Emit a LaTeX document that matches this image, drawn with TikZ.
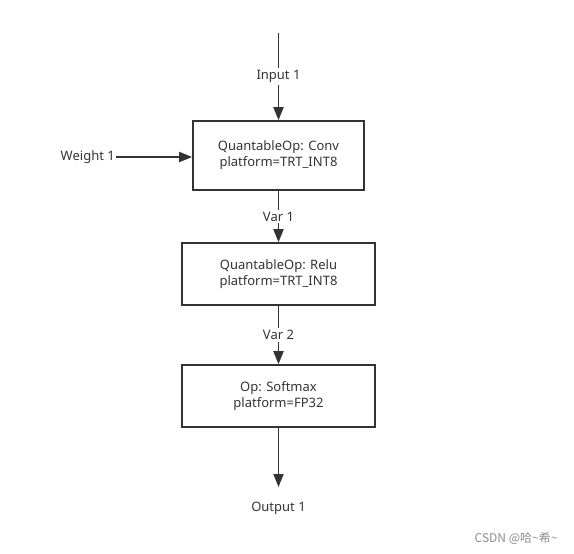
\documentclass[tikz,border=0pt]{standalone}
\usepackage{fontspec}
\setmainfont{Noto Sans}
\newfontfamily\cjk{Noto Sans CJK SC}
\usetikzlibrary{arrows.meta}
\definecolor{ink}{HTML}{333333}
\tikzset{
  opbox/.style={draw=ink, line width=1.6pt, minimum width=171pt, minimum height=69pt, align=center, text=ink, font=\fontsize{13}{16}\selectfont, inner sep=0pt},
  flow/.style={draw=ink, line width=1.8pt, -{Triangle[length=13pt,width=10pt]}},
  lbl/.style={fill=white, text=ink, font=\fontsize{13}{16}\selectfont, inner sep=2pt},
  txt/.style={text=ink, font=\fontsize{13}{16}\selectfont, inner sep=1pt}
}
\begin{document}
\begin{tikzpicture}[x=1pt,y=-1pt]
\useasboundingbox (0,0) rectangle (574,554);
\node[opbox] (conv) at (278.5,155.5) {QuantableOp: Conv\\platform=TRT\_INT8};
\node[opbox, minimum width=193pt, minimum height=62pt] (relu) at (278.5,274) {QuantableOp: Relu\\platform=TRT\_INT8};
\node[opbox, minimum width=193pt, minimum height=62pt] (soft) at (278.5,396) {Op: Softmax\\platform=FP32};
\coordinate (top) at (278.5,33);
\coordinate (outend) at (278.5,487);
\node[txt] (out) at (278.5,508) {Output 1};
\node[txt, anchor=east] (w) at (116,157) {Weight 1};
\draw[flow] (top) -- node[lbl] {Input 1} (conv.north);
\draw[flow] (w.east) -- (w.east -| conv.west);
\draw[flow] (conv.south) -- node[lbl] {Var 1} (relu.north);
\draw[flow] (relu.south) -- node[lbl] {Var 2} (soft.north);
\draw[flow] (soft.south) -- (outend);
\node[text=black!45, font=\cjk\fontsize{12}{14}\selectfont, anchor=east] (wm) at (561,538) {CSDN @哈\textasciitilde 希\textasciitilde};
\end{tikzpicture}
\end{document}
